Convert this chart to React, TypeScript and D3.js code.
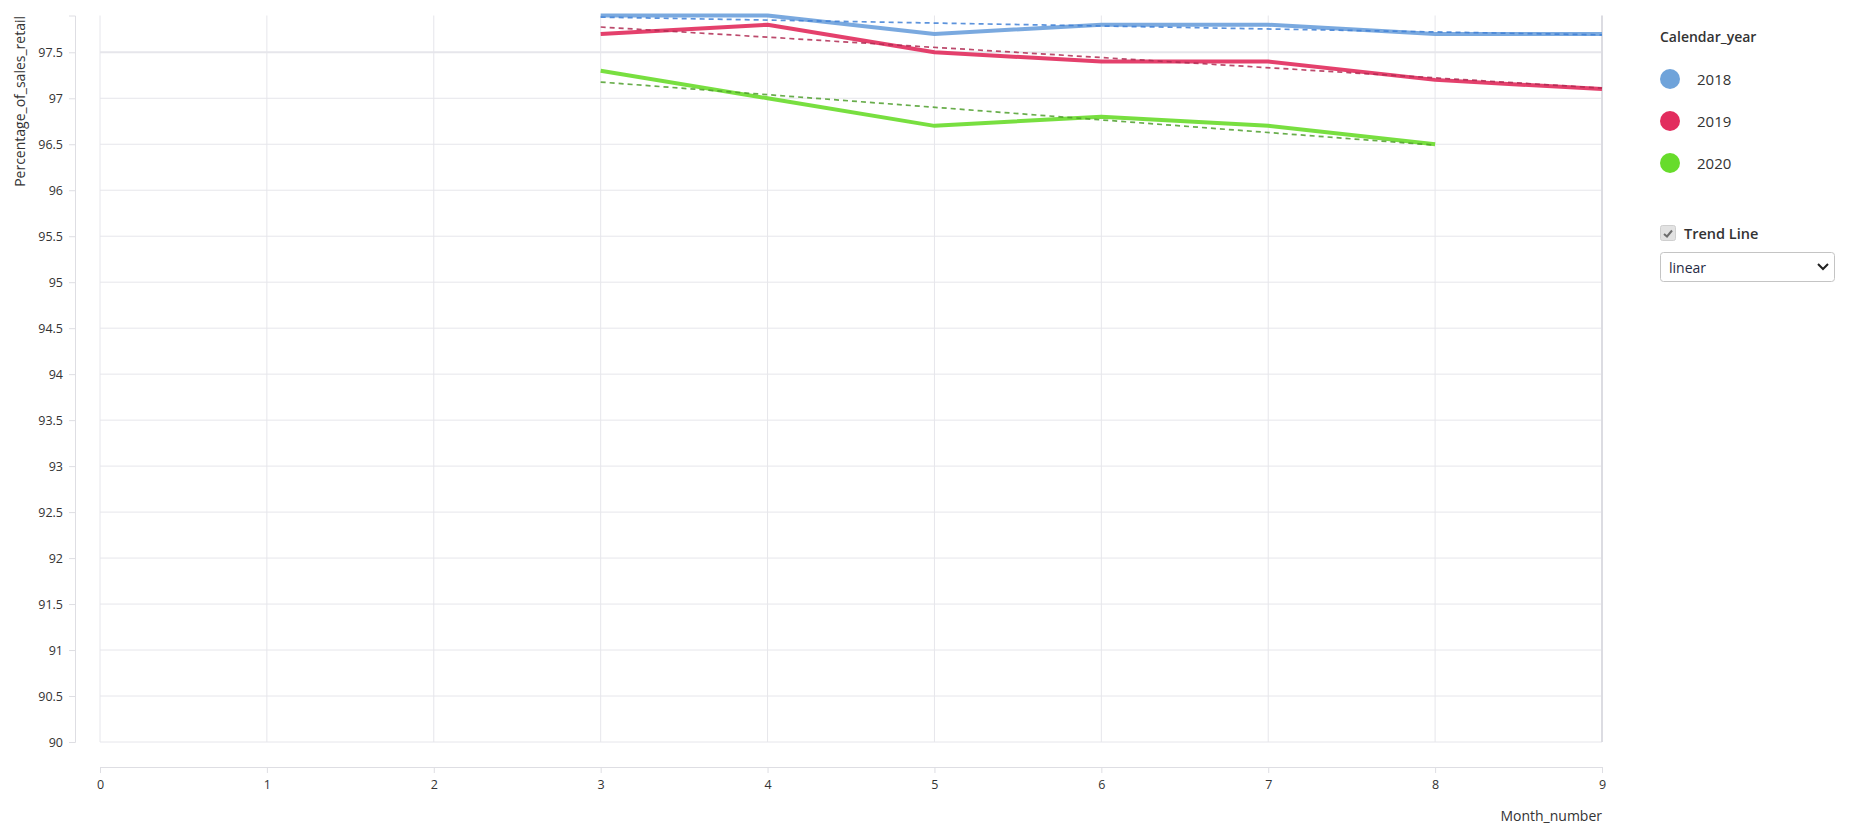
import React, { useEffect, useRef } from "react";
import * as d3 from "d3";

const months2018 = [3, 4, 5, 6, 7, 8, 9];
const values2018 = [97.9, 97.9, 97.7, 97.8, 97.8, 97.7, 97.7];
const months2019 = [3, 4, 5, 6, 7, 8, 9];
const values2019 = [97.7, 97.8, 97.5, 97.4, 97.4, 97.2, 97.1];
const months2020 = [3, 4, 5, 6, 7, 8];
const values2020 = [97.3, 97.0, 96.7, 96.8, 96.7, 96.5];

const years = ["2018", "2019", "2020"];
const lineColors = ["#6fa2dc", "#e2305f", "#6ddc30"];
const trendColors = ["#3f80d6", "#b02a52", "#4e9f2c"];
const legendColors = ["#6fa3da", "#e22d5e", "#67dc2b"];

const xTicks = [0, 1, 2, 3, 4, 5, 6, 7, 8, 9];
const yTicks = [90, 90.5, 91, 91.5, 92, 92.5, 93, 93.5, 94, 94.5, 95, 95.5, 96, 96.5, 97, 97.5];
const yDomain = [90, 97.9];
const xDomain = [0, 9];

const FONT = "'Open Sans', 'Noto Sans', sans-serif";

function regression(xs: number[], ys: number[]) {
  const mx = d3.mean(xs) as number;
  const my = d3.mean(ys) as number;
  let sxy = 0, sxx = 0;
  xs.forEach((x, i) => {
    sxy += (x - mx) * (ys[i] - my);
    sxx += (x - mx) * (x - mx);
  });
  const slope = sxy / sxx;
  const intercept = my - slope * mx;
  const x0 = d3.min(xs) as number;
  const x1 = d3.max(xs) as number;
  return [
    [x0, intercept + slope * x0],
    [x1, intercept + slope * x1],
  ];
}

export default function App() {
  const ref = useRef<SVGSVGElement>(null);

  useEffect(() => {
    const svg = d3.select(ref.current);
    svg.selectAll("*").remove();

    const left = 100, right = 1602, top = 15.5, bottom = 742;
    const x = d3.scaleLinear().domain(xDomain).range([left, right]);
    const y = d3.scaleLinear().domain(yDomain).range([bottom, top]);

    const grid = svg.append("g");
    grid.selectAll("line.h").data(yTicks).enter().append("line")
      .attr("x1", left).attr("x2", right)
      .attr("y1", (d) => y(d)).attr("y2", (d) => y(d))
      .attr("stroke", "#e6e6eb")
      .attr("stroke-width", (d) => (d === 97.5 ? 2 : 1));
    grid.selectAll("line.v").data(xTicks).enter().append("line")
      .attr("x1", (d) => x(d)).attr("x2", (d) => x(d))
      .attr("y1", top).attr("y2", bottom)
      .attr("stroke", (d) => (d === 9 ? "#dcdce2" : "#e6e6eb"))
      .attr("stroke-width", (d) => (d === 9 ? 2 : 1));

    const yAxis = svg.append("g")
      .attr("transform", "translate(75,0)")
      .call(d3.axisLeft(y).tickValues(yTicks).tickSize(6).tickSizeOuter(6).tickPadding(6).tickFormat((d) => String(d)));
    yAxis.selectAll("path, line").attr("stroke", "#dedee3");
    yAxis.selectAll("text").attr("fill", "#333").style("font-family", FONT).style("font-size", "12.5px");

    const xAxis = svg.append("g")
      .attr("transform", "translate(0,767)")
      .call(d3.axisBottom(x).tickValues(xTicks).tickSize(6).tickSizeOuter(6).tickPadding(7).tickFormat((d) => String(d)));
    xAxis.selectAll("path, line").attr("stroke", "#dedee3");
    xAxis.selectAll("text").attr("fill", "#333").style("font-family", FONT).style("font-size", "12.5px");

    svg.append("text")
      .attr("transform", "translate(25,16) rotate(-90)")
      .attr("text-anchor", "end")
      .attr("fill", "#333")
      .style("font-family", FONT).style("font-size", "14px").style("font-weight", 500)
      .text("Percentage_of_sales_retail");
    svg.append("text")
      .attr("x", 1602).attr("y", 821)
      .attr("text-anchor", "end")
      .attr("fill", "#333")
      .style("font-family", FONT).style("font-size", "14px").style("font-weight", 500)
      .text("Month_number");

    const series = [
      { xs: months2018, ys: values2018 },
      { xs: months2019, ys: values2019 },
      { xs: months2020, ys: values2020 },
    ];
    const line = d3.line<number[]>().x((d) => x(d[0])).y((d) => y(d[1]));

    series.forEach((s, i) => {
      const pts = s.xs.map((m, j) => [m, s.ys[j]]);
      svg.append("path")
        .attr("d", line(pts) as string)
        .attr("fill", "none")
        .attr("stroke", lineColors[i])
        .attr("stroke-width", 4)
        .attr("stroke-linejoin", "round")
        .attr("opacity", 0.92);
    });
    series.forEach((s, i) => {
      const tr = regression(s.xs, s.ys);
      svg.append("path")
        .attr("d", line(tr) as string)
        .attr("fill", "none")
        .attr("stroke", trendColors[i])
        .attr("stroke-width", 1.7)
        .attr("opacity", 0.85)
        .attr("stroke-dasharray", "5,4");
    });

    const lg = svg.append("g");
    lg.append("text")
      .attr("x", 1660).attr("y", 42)
      .attr("fill", "#333")
      .style("font-family", FONT).style("font-size", "14px").style("font-weight", 600)
      .text("Calendar_year");
    years.forEach((yr, i) => {
      const cy = 79 + i * 42;
      lg.append("circle").attr("cx", 1670).attr("cy", cy).attr("r", 10).attr("fill", legendColors[i]);
      lg.append("text")
        .attr("x", 1697).attr("y", cy + 5.5)
        .attr("fill", "#333")
        .style("font-family", FONT).style("font-size", "15px")
        .text(yr);
    });

    lg.append("rect").attr("x", 1660.5).attr("y", 225.5).attr("width", 15).attr("height", 15)
      .attr("rx", 2).attr("fill", "#e2e2e2").attr("stroke", "#cfcfcf");
    lg.append("path").attr("d", "M1664,234 L1667,236.5 L1672,230.5")
      .attr("fill", "none").attr("stroke", "#6e6e6e").attr("stroke-width", 2);
    lg.append("text")
      .attr("x", 1684).attr("y", 238.5)
      .attr("fill", "#333")
      .style("font-family", FONT).style("font-size", "14.5px").style("font-weight", 600)
      .text("Trend Line");
    lg.append("rect").attr("x", 1660.5).attr("y", 252.5).attr("width", 174).attr("height", 29)
      .attr("rx", 3).attr("fill", "#fff").attr("stroke", "#c4c4c4");
    lg.append("text")
      .attr("x", 1669).attr("y", 273)
      .attr("fill", "#1f2a44")
      .style("font-family", FONT).style("font-size", "14px")
      .text("linear");
    lg.append("path").attr("d", "M1818,264 L1823,269 L1828,264")
      .attr("fill", "none").attr("stroke", "#222").attr("stroke-width", 2);
  }, []);

  return (
    <svg
      ref={ref}
      width={1866}
      height={839}
      style={{ position: "absolute", left: 0, top: 0, background: "#fff" }}
    />
  );
}
